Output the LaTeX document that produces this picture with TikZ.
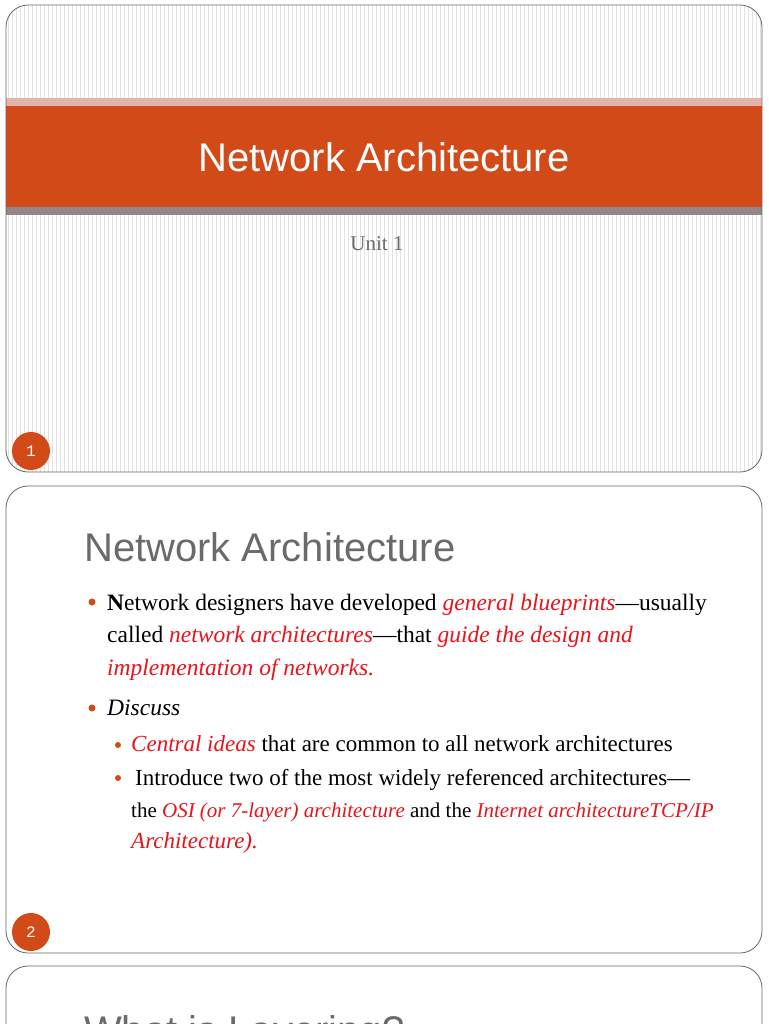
\documentclass[tikz,border=0pt]{standalone}
\usepackage{fontspec}
\setmainfont{Liberation Serif}
\setsansfont{Liberation Sans}
\setmonofont{Liberation Mono}
\definecolor{orng}{HTML}{D24A18}
\definecolor{pinkb}{HTML}{E6B2AC}
\definecolor{greyb}{HTML}{938587}
\definecolor{redt}{HTML}{E8141C}
\definecolor{titg}{HTML}{6A6A6A}
\tikzset{
  slide/.style={draw=black!60, line width=0.8pt, rounded corners=22pt},
  num/.style={circle, fill=orng, minimum width=38pt, minimum height=34pt, inner sep=0, text=white, font=\ttfamily\fontsize{16}{18}\selectfont},
  bodyt/.style={anchor=base west, inner sep=0, font=\fontsize{23.5}{26}\selectfont},
  subt/.style={anchor=base west, inner sep=0, font=\fontsize{23}{26}\selectfont},
  dot/.style={circle, fill=orng, inner sep=0, minimum size=7pt},
}
\newcommand{\rd}[1]{\textcolor{redt}{\textit{#1}}}
\begin{document}
\begin{tikzpicture}[x=1pt,y=-1pt]
\useasboundingbox (0,0) rectangle (768,1024);
\fill[white] (0,0) rectangle (768,1024);
% slide 1
\begin{scope}
\clip[rounded corners=22pt] (6,5) rectangle (762,472);
\foreach \i in {0,...,190} {\draw[black!11, line width=0.6pt] (8+\i*4,5) -- (8+\i*4,472);}
\fill[pinkb] (6,98) rectangle (762,106);
\fill[orng] (6,106) rectangle (762,207);
\fill[greyb] (6,207) rectangle (762,215);
\end{scope}
\draw[slide] (6,5) rectangle (762,472);
\node[text=white, font=\sffamily\fontsize{40}{44}\selectfont] (t1) at (384,157) {Network Architecture};
\node[text=titg, font=\fontsize{21}{24}\selectfont] (u1) at (377,244) {Unit 1};
\node[num] (n1) at (31,451) {1};
% slide 2
\draw[slide] (6,486) rectangle (762,953);
\node[anchor=base west, text=titg, font=\sffamily\fontsize{40}{44}\selectfont, inner sep=0] (t2) at (84,561) {Network Architecture};
\node[dot] (b1) at (92,602) {};
\node[bodyt] (l1) at (107,610) {\textbf{N}etwork designers have developed \rd{general blueprints}—usually};
\node[bodyt] (l2) at (107,642) {called \rd{network architectures}—that \rd{guide the design and}};
\node[bodyt] (l3) at (107,675) {\rd{implementation of networks.}};
\node[dot] (b2) at (92,708) {};
\node[bodyt] (l4) at (107,715) {\textit{Discuss}};
\node[dot, minimum size=6pt] (b3) at (118,745) {};
\node[subt] (l5) at (131,751) {\rd{Central ideas} that are common to all network architectures};
\node[dot, minimum size=6pt] (b4) at (118,778) {};
\node[subt] (l6) at (135,785) {Introduce two of the most widely referenced architectures—};
\node[subt, font=\fontsize{21}{24}\selectfont] (l7) at (131,817) {the \rd{OSI (or 7-layer) architecture} and the \rd{Internet architectureTCP/IP}};
\node[subt] (l8) at (131,848) {\rd{Architecture).}};
\node[num] (n2) at (31,932) {2};
% slide 3
\draw[slide] (6,966) rectangle (762,1100);
\node[anchor=base west, text=titg, font=\sffamily\fontsize{40}{44}\selectfont, inner sep=0] (t3) at (84,1044) {What is Layering?};
\end{tikzpicture}
\end{document}
